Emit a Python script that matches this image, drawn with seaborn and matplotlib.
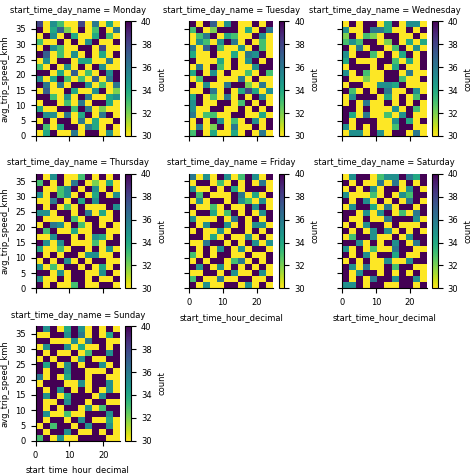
import numpy as np
import pandas as pd
import seaborn as sns
import matplotlib
matplotlib.use("Agg")
import matplotlib.pyplot as plt

days = ["Monday", "Tuesday", "Wednesday", "Thursday", "Friday", "Saturday", "Sunday"]
# estimated count levels per cell (0 -> 30, 9 -> 40+), rows top->bottom, 12 columns
monday = [
 "805300806040", "904720903906", "095094004930",
 "300909059009", "095300990800", "970305090409",
 "050990440060", "309050909500", "990407030959",
 "504930307069", "960609950306", "070094005902",
 "993050960045", "099030609940", "400993960200",
 "955060490690", "090990604009", "930499064090",
 "049006099050",
]
tuesday = [
 "909705900909", "390299904096", "036904300950",
 "053059609030", "607930050930", "400900406590",
 "900040905909", "060930900599", "490509003093",
 "039900060900", "905006992060", "009609048405",
 "490306090950", "590099039090", "500990090909",
 "603300990040", "090950309509", "060290600909",
 "390400409060",
]
wednesday = [
 "090990490550", "500966400909", "290320990090",
 "353990290404", "906099039050", "509930904909",
 "490009930409", "099909049009", "509300990600",
 "900200993009", "099005549000", "930909600950",
 "059990409039", "090600909090", "990900050930",
 "940600305900", "909990059409", "509090039900",
 "055095099060",
]
thursday = [
 "905900390909", "390906902040", "900359095090",
 "509350904905", "006909495999", "909030900095",
 "550990960409", "900093099009", "096509309090",
 "939004009900", "005990905409", "950590003099",
 "400309909050", "909099055009", "090950909900",
 "503099090409", "990509900590", "500909909009",
 "909003900990",
]
friday = [
 "605095039509", "099030909060", "500909409990",
 "939000960409", "050990953050", "900309009590",
 "099403909059", "500090690909", "905995090550",
 "090050990909", "990409005090", "006990909505",
 "909059050990", "309099009009", "090990360909",
 "959050909090", "009909500950", "390060099009",
 "905009905090",
]
saturday = [
 "059903559649", "909006060909", "090950990590",
 "500030905399", "909509090690", "059940609909",
 "990505903069", "900900699950", "090599090009",
 "909059509090", "039950090599", "995090959069",
 "509030069900", "909509949009", "090900500599",
 "950600939900", "905990909090", "909069959950",
 "559099009909",
]
sunday = [
 "959049509090", "009959609049", "990005069900",
 "059950400909", "909009039959", "090990590099",
 "949059099509", "909959900090", "609049909900",
 "099900509950", "909590909050", "959049990599",
 "900959909900", "909099050399", "950030099959",
 "909909590040", "093990959950", "909959009090",
 "390500999900",
]
levels = [monday, tuesday, wednesday, thursday, friday, saturday, sunday]

x_edges = np.linspace(0, 25, 13)
y_edges = np.linspace(0, 37.5, 20)

rows = []
for day, grid in zip(days, levels):
    nrow = len(grid)
    for r, line in enumerate(grid):
        yc = (y_edges[nrow - 1 - r] + y_edges[nrow - r]) / 2
        for c, ch in enumerate(line):
            xc = (x_edges[c] + x_edges[c + 1]) / 2
            n = 30 + int(ch) * 10 // 9 + (2 if ch == "9" else 0)
            rows.append((day, xc, yc, n))
cells = pd.DataFrame(rows, columns=["start_time_day_name", "start_time_hour_decimal",
                                    "avg_trip_speed_kmh", "n"])
df = cells.loc[cells.index.repeat(cells["n"])].reset_index(drop=True)

plt.rcParams.update({"font.size": 6})
g = sns.displot(data=df, x="start_time_hour_decimal", y="avg_trip_speed_kmh",
                col="start_time_day_name", col_wrap=3, col_order=days,
                bins=(x_edges, y_edges), cbar=True, cmap="viridis_r",
                vmin=30, vmax=40, cbar_kws={"label": "count"},
                height=1.58, aspect=1.0)
for ax in g.axes.flat:
    ax.set_xticks([0, 10, 20])
    ax.set_yticks([0, 5, 10, 15, 20, 25, 30, 35])
    ax.set_xlim(0, 25)
    ax.set_ylim(0, 37.5)
g.figure.set_size_inches(4.74, 4.74)
g.figure.subplots_adjust(left=0.075, right=0.945, bottom=0.07, top=0.955, wspace=0.45, hspace=0.33)
g.figure.savefig("out.png", dpi=100)
